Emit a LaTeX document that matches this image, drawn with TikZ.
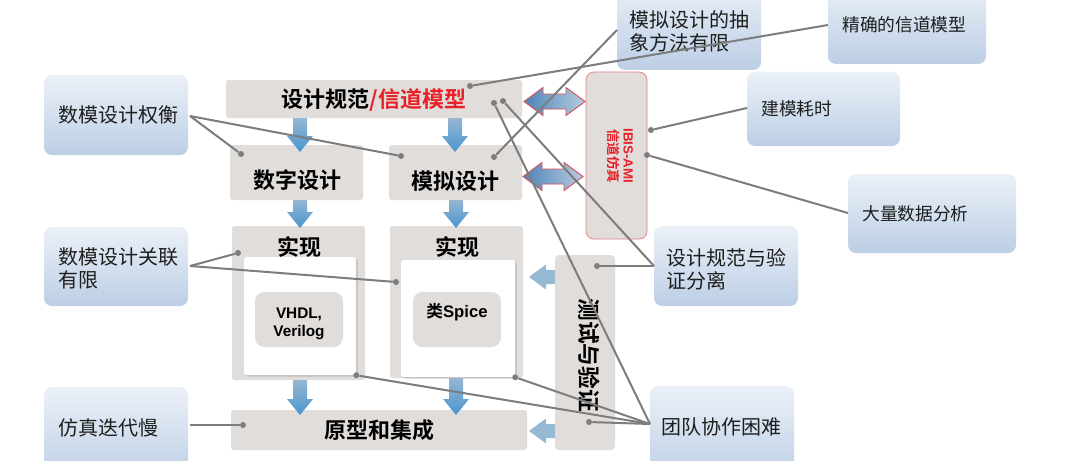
\documentclass[tikz,border=0pt]{standalone}
\usepackage{fontspec}
\setmainfont{Noto Sans CJK SC}[BoldFont={Noto Sans CJK SC Bold}]
\newfontfamily\lat{Liberation Sans}
\usetikzlibrary{fit,shadows}
\definecolor{boxgray}{RGB}{225,221,218}
\definecolor{cbtop}{RGB}{236,241,248}
\definecolor{cbbot}{RGB}{188,206,229}
\definecolor{lineg}{RGB}{125,125,125}
\definecolor{arrt}{RGB}{150,182,210}
\definecolor{arrb}{RGB}{72,150,208}
\definecolor{larr}{RGB}{150,185,212}
\definecolor{dblL}{RGB}{78,132,182}
\definecolor{dblR}{RGB}{182,204,224}
\definecolor{redl}{RGB}{215,80,90}
\definecolor{redt}{RGB}{232,32,40}
\definecolor{txtc}{RGB}{30,30,30}
\newcommand{\dnarr}[3]{\shade[top color=arrt,bottom color=arrb] (#1-7,#2) -- (#1+7,#2) -- (#1+7,#3-16) -- (#1+13,#3-16) -- (#1,#3) -- (#1-13,#3-16) -- (#1-7,#3-16) -- cycle;}
\newcommand{\lfarr}[1]{\fill[larr] (529,#1) -- (546,#1-12.5) -- (546,#1-7) -- (555,#1-7) -- (555,#1+7) -- (546,#1+7) -- (546,#1+12.5) -- cycle;}
\newcommand{\dblarr}[3]{\shadedraw[left color=dblL,right color=dblR,draw=redl,line width=0.7pt] (#1,#3) -- (#1+19,#3-14) -- (#1+19,#3-7.5) -- (#2-19,#3-7.5) -- (#2-19,#3-14) -- (#2,#3) -- (#2-19,#3+14) -- (#2-19,#3+7.5) -- (#1+19,#3+7.5) -- (#1+19,#3+14) -- cycle;}
\begin{document}
\begin{tikzpicture}[x=0.75pt,y=-0.75pt,
  callout/.style={rounded corners=6pt, top color=cbtop, bottom color=cbbot, inner sep=0pt},
  graybox/.style={fill=boxgray, rounded corners=2pt, inner sep=0pt},
  wbox/.style={fill=white, inner sep=0pt, rounded corners=2pt, drop shadow={shadow xshift=1.2pt, shadow yshift=-1.2pt, opacity=0.35}},
  codebox/.style={fill=boxgray, rounded corners=7pt, inner sep=0pt},
  ibis/.style={fill=boxgray, draw=redl!70, line width=0.6pt, rounded corners=6pt, inner sep=0pt},
  ctext/.style={font=\fontsize{15}{17.3}\selectfont, text=txtc, inner sep=0pt, align=left, anchor=west},
  csmall/.style={font=\fontsize{13.3}{16}\selectfont, text=txtc, inner sep=0pt, anchor=west},
  ttl/.style={font=\bfseries\fontsize{16.5}{19}\selectfont, inner sep=0pt, text=black},
  conn/.style={draw=lineg, line width=1.5pt},
  dotm/.style={circle, fill=lineg, inner sep=0pt, minimum size=4.5pt}]
\useasboundingbox (0,0) rectangle (1080,460);
\clip (0,0) rectangle (1080,460);
\fill[white] (0,0) rectangle (1080,460);
% callouts
\node[callout, fit={(44,75) (188,155)}] (cA) {};
\node[ctext] (tA) at (58,115) {数模设计权衡};
\node[callout, fit={(44,227) (188,306)}] (cB) {};
\node[ctext] (tB) at (58,268) {数模设计关联\\有限};
\node[callout, fit={(44,387) (188,480)}] (cC) {};
\node[ctext] (tC) at (58,428) {仿真迭代慢};
\node[callout, fit={(617,-20) (761,70)}] (cD) {};
\node[ctext] (tD) at (629,31) {模拟设计的抽\\象方法有限};
\node[callout, fit={(828,-20) (986,64)}] (cE) {};
\node[csmall] (tE) at (842,25) {精确的信道模型};
\node[callout, fit={(747,72) (900,146)}] (cF) {};
\node[csmall] (tF) at (761,109) {建模耗时};
\node[callout, fit={(848,174) (1016,253)}] (cG) {};
\node[csmall] (tG) at (862,214) {大量数据分析};
\node[callout, fit={(654,226) (798,306)}] (cH) {};
\node[ctext] (tH) at (666,269) {设计规范与验\\证分离};
\node[callout, fit={(650,386) (794,480)}] (cI) {};
\node[ctext] (tI) at (661,427) {团队协作困难};
% main boxes
\node[graybox, fit={(226,80) (522,118)}] (spec) {};
\node[ttl] (tspec) at (374,100) {设计规范\textcolor{redt}{/信道模型}};
\node[graybox, fit={(230,145) (363,200)}] (dig) {};
\node[ttl] (tdig) at (297,180) {数字设计};
\node[graybox, fit={(389,145) (522,200)}] (ana) {};
\node[ttl] (tana) at (455,181) {模拟设计};
\node[graybox, fit={(232,226) (365,380)}] (impL) {};
\node[ttl] (timpL) at (299,247) {实现};
\node[wbox, fit={(244,257) (356,375)}] (wL) {};
\node[codebox, fit={(255,292) (343,347)}] (vh) {};
\node[font=\lat\bfseries\fontsize{11.5}{13.5}\selectfont, align=center, inner sep=0pt] (tvh) at (299,324) {VHDL,\\Verilog};
\node[graybox, fit={(390,226) (523,378)}] (impR) {};
\node[ttl] (timpR) at (457,247) {实现};
\node[wbox, fit={(401,260) (515,377)}] (wR) {};
\node[codebox, fit={(413,292) (501,347)}] (sp) {};
\node[font=\bfseries\fontsize{12.5}{15}\selectfont, inner sep=0pt] (tsp) at (457,312) {类{\lat\bfseries Spice}};
\node[graybox, fit={(231,410) (527,450)}] (proto) {};
\node[ttl] (tproto) at (379,430) {原型和集成};
\node[graybox, rounded corners=3pt, fit={(555,255) (615,450)}] (test) {};
\node[ttl, font=\bfseries\fontsize{17}{19}\selectfont, rotate=-90] (ttest) at (589,355) {测试与验证};
\node[ibis, fit={(586,72) (647,239)}] (ibis) {};
\node[rotate=-90, text=redt, font=\lat\bfseries\fontsize{10}{11.3}\selectfont, align=center, inner sep=0pt] (tibis) at (620,156) {IBIS-AMI\\{\rmfamily\bfseries 信道仿真}};
% arrows
\dnarr{300}{118}{152}
\dnarr{455}{118}{152}
\dnarr{300}{200}{228}
\dnarr{456}{200}{228}
\dnarr{300}{380}{415}
\dnarr{456}{378}{415}
\lfarr{277}
\lfarr{431}
\dblarr{524}{585}{101.5}
\dblarr{523}{583}{176.5}
% connector end points and dots
\coordinate (eA) at (190,116);
\coordinate (eB) at (190,266);
\coordinate (eC) at (190,425);
\coordinate (eD) at (617,30);
\coordinate (eE) at (828,25);
\coordinate (eF) at (747,108);
\coordinate (eG) at (848,213);
\coordinate (eH) at (654,266);
\coordinate (eI) at (650,424);
\node[dotm] (dA1) at (241,154) {};
\node[dotm] (dA2) at (401,156) {};
\node[dotm] (dB1) at (238,253) {};
\node[dotm] (dB2) at (396,282) {};
\node[dotm] (dC) at (243,425) {};
\node[dotm] (dD) at (494,157) {};
\node[dotm] (dE) at (470,86) {};
\node[dotm] (dF) at (651,130) {};
\node[dotm] (dG) at (647,155) {};
\node[dotm] (dH1) at (503,101) {};
\node[dotm] (dH2) at (597,266) {};
\node[dotm] (dI1) at (494,103) {};
\node[dotm] (dI2) at (wL.south east) {};
\node[dotm] (dI3) at (wR.south east) {};
\node[dotm] (dI4) at (589,422) {};
\draw[conn] (eA) -- (dA1);
\draw[conn] (eA) -- (dA2);
\draw[conn] (eB) -- (dB1);
\draw[conn] (eB) -- (dB2);
\draw[conn] (eC) -- (dC);
\draw[conn] (eD) -- (dD);
\draw[conn] (eE) -- (dE);
\draw[conn] (eF) -- (dF);
\draw[conn] (eG) -- (dG);
\draw[conn] (eH) -- (dH1);
\draw[conn] (eH) -- (dH2);
\draw[conn] (eI) -- (dI1);
\draw[conn] (eI) -- (dI2);
\draw[conn] (eI) -- (dI3);
\draw[conn] (eI) -- (dI4);
\end{tikzpicture}
\end{document}
